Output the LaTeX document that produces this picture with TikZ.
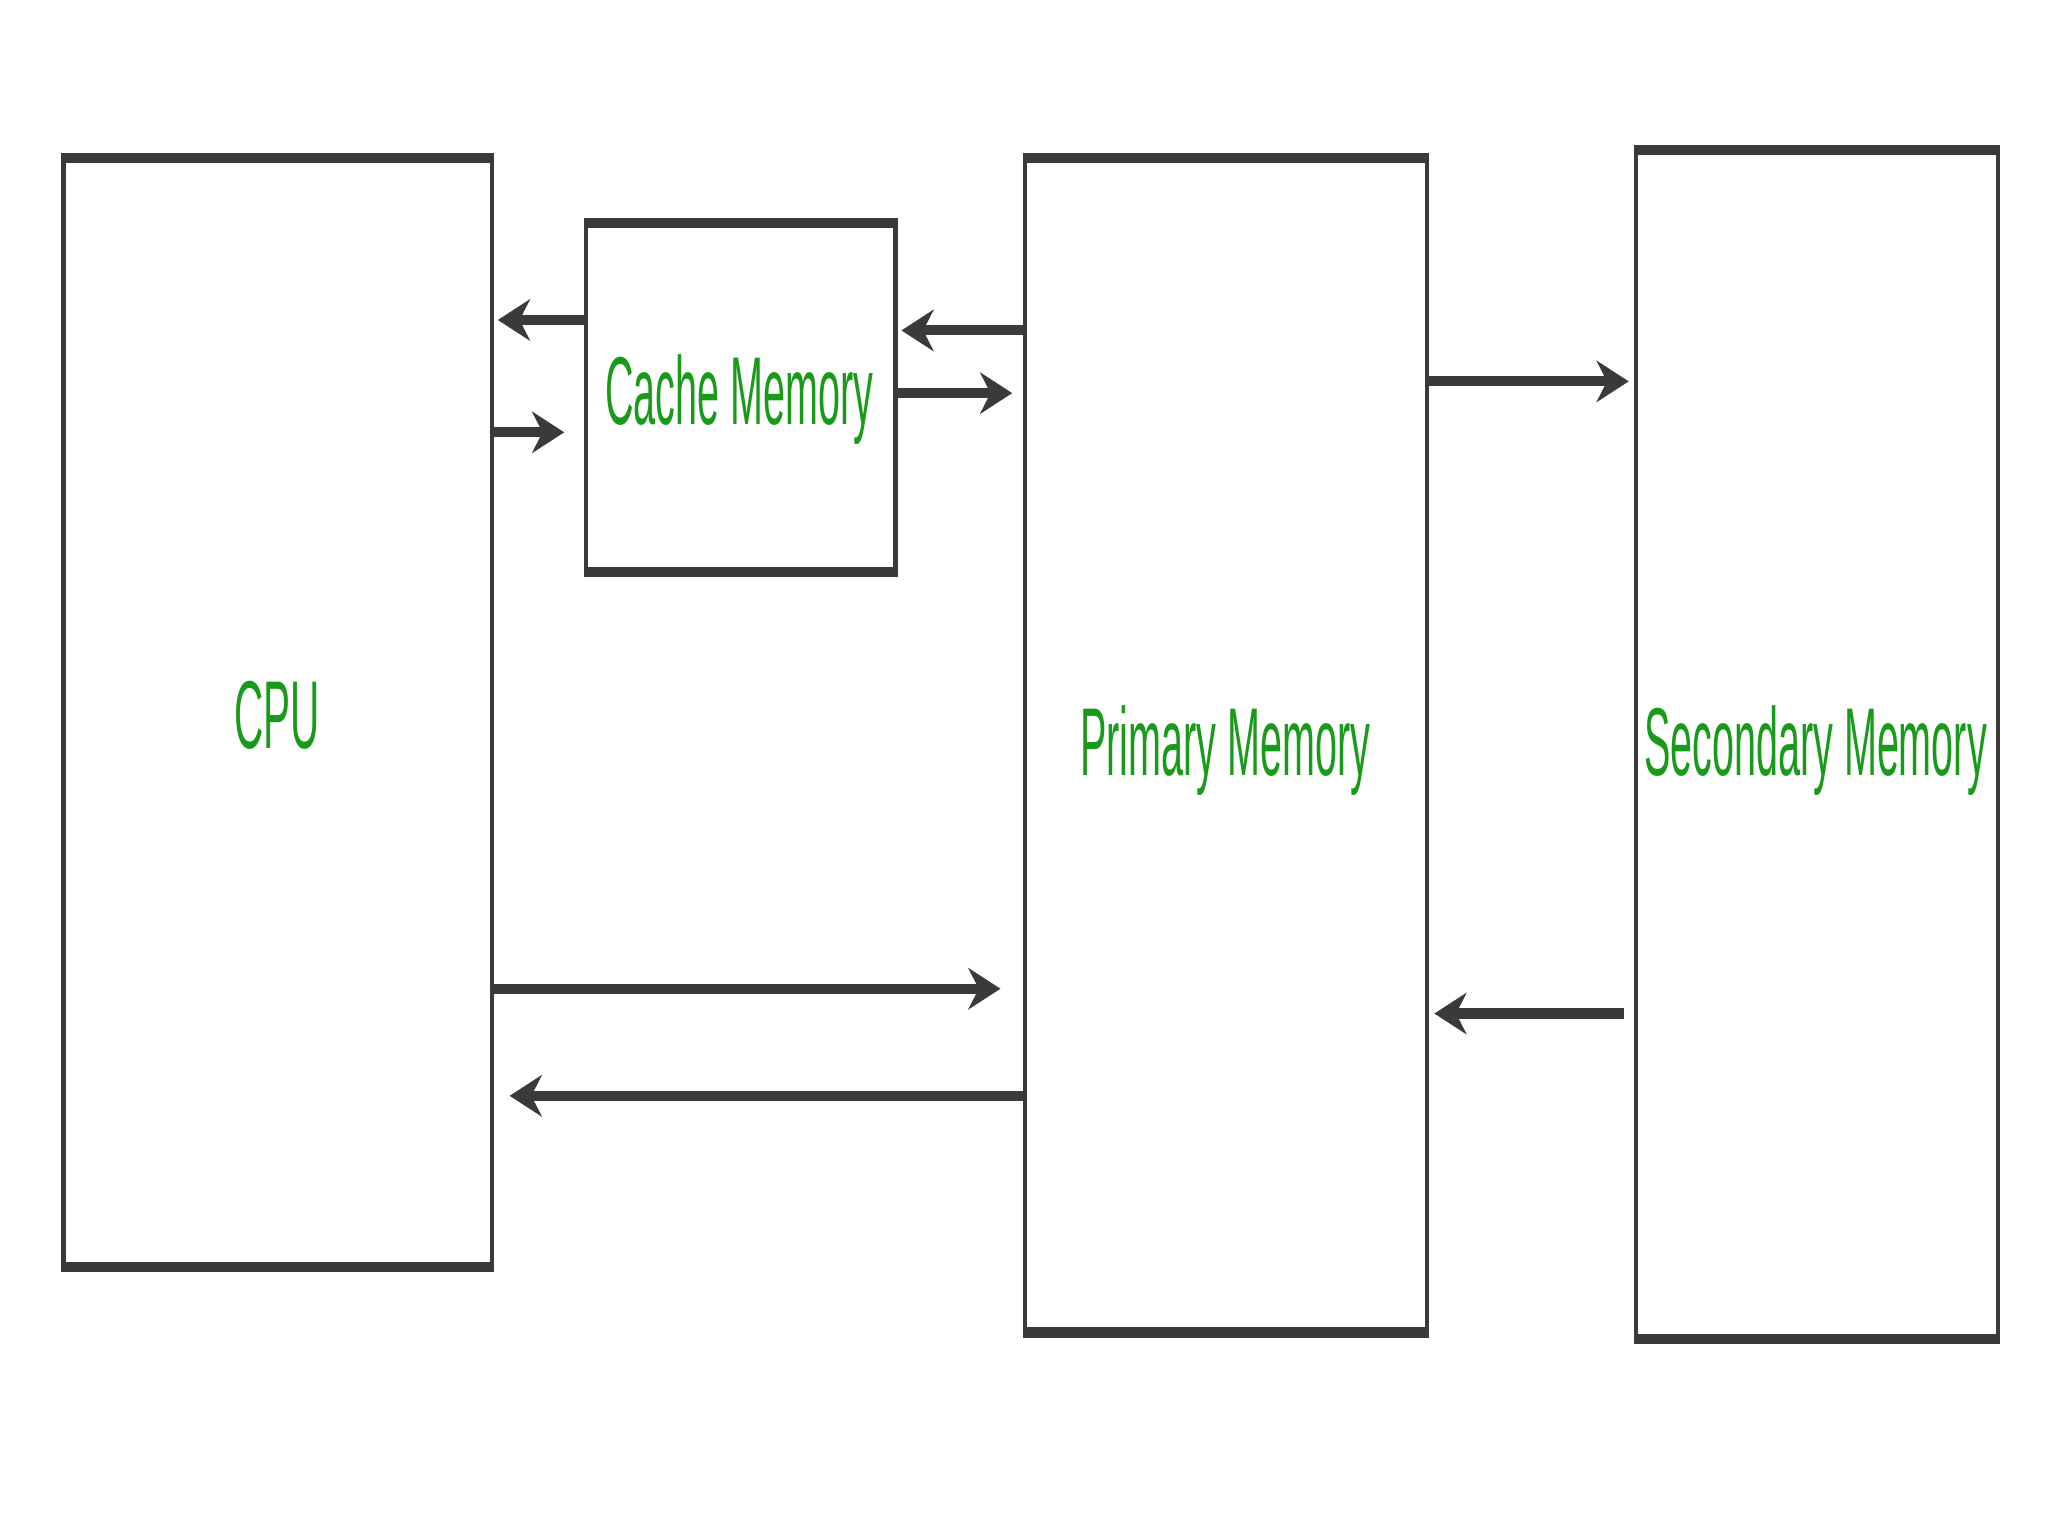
\documentclass[tikz,border=0pt]{standalone}
\usepackage{fontspec}
\setmainfont{Liberation Sans}
\usetikzlibrary{arrows.meta}
\definecolor{edge}{HTML}{3A3A3A}
\definecolor{txt}{HTML}{1A9A1A}
\begin{document}
\begin{tikzpicture}[x=0.01cm,y=-0.01cm,
  box/.style={draw=edge,line width=0.9pt,inner sep=0,anchor=north west},
  lbl/.style={text=txt,font=\fontsize{21}{24}\selectfont},
  arr/.style={draw=edge,line width=2.2pt,-{Stealth[length=7pt,width=9pt]}}]
\useasboundingbox (0,0) rectangle (1568,1176);
\newcommand\mybox[5]{%
  \node[box,minimum width=#4*0.01cm-0.0cm,minimum height=#5*0.01cm] (#1) at (#2,#3) {};
  \draw[edge,line width=2.2pt] (#1.north west) -- (#1.north east);
  \draw[edge,line width=2.2pt] (#1.south west) -- (#1.south east);}
\mybox{cpu}{47}{121}{328}{846}
\mybox{cache}{447}{171}{237}{264}
\mybox{prim}{783}{121}{308}{896}
\mybox{sec}{1251}{115}{277}{907}
\node[lbl] at (212,548) {\scalebox{0.42}[1]{CPU}};
\node[lbl] at (566,306) {\scalebox{0.41}[1]{Cache Memory}};
\node[lbl] at (938,575) {\scalebox{0.41}[1]{Primary Memory}};
\node[lbl] at (1390,575) {\scalebox{0.41}[1]{Secondary Memory}};
\draw[arr] (cache.west |- 0,245) -- ([xshift=0.03cm]cpu.east |- 0,245);
\draw[arr] (cpu.east |- 0,331) -- ([xshift=-0.15cm]cache.west |- 0,331);
\draw[arr] (prim.west |- 0,253) -- ([xshift=0.03cm]cache.east |- 0,253);
\draw[arr] (cache.east |- 0,301) -- ([xshift=-0.08cm]prim.west |- 0,301);
\draw[arr] (prim.east |- 0,292) -- ([xshift=-0.04cm]sec.west |- 0,292);
\draw[arr] ([xshift=-0.08cm]sec.west |- 0,776) -- ([xshift=0.04cm]prim.east |- 0,776);
\draw[arr] (cpu.east |- 0,757) -- ([xshift=-0.17cm]prim.west |- 0,757);
\draw[arr] (prim.west |- 0,839) -- ([xshift=0.12cm]cpu.east |- 0,839);
\end{tikzpicture}
\end{document}
